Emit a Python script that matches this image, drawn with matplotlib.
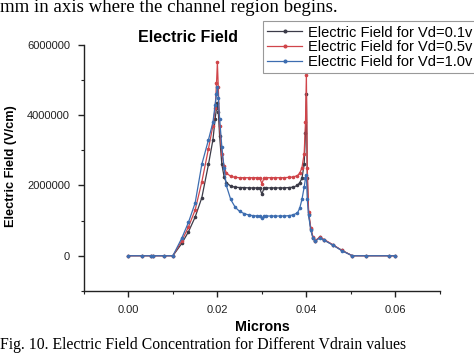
import matplotlib
matplotlib.use('Agg')
import matplotlib.pyplot as plt
from matplotlib.ticker import MultipleLocator

plt.rcParams['font.family'] = ['Liberation Sans', 'DejaVu Sans']

# mesh positions (microns)
x = [0.0, 0.003, 0.005, 0.0055, 0.008, 0.01, 0.012, 0.0135, 0.015, 0.0165,
     0.018, 0.019, 0.0195, 0.0198, 0.02, 0.0202, 0.0205, 0.021, 0.0215, 0.022,
     0.023, 0.024, 0.025, 0.026, 0.027, 0.028, 0.029, 0.0295, 0.03, 0.0305,
     0.031, 0.032, 0.033, 0.034, 0.035, 0.036, 0.037, 0.038, 0.0385, 0.039,
     0.0395, 0.0398, 0.04, 0.0402, 0.0405, 0.041, 0.0415, 0.042, 0.043, 0.044,
     0.046, 0.048, 0.0503, 0.0535, 0.0585, 0.06]

# electric field, units of 1e6 V/cm
e_vd01 = [0, 0, 0, 0, 0, 0, 0.35, 0.68, 1.1, 1.65,
          2.6, 3.3, 3.9, 4.2, 4.35, 4.1, 3.4, 2.6, 2.25, 2.08,
          1.98, 1.95, 1.94, 1.94, 1.93, 1.93, 1.93, 1.93, 1.75, 1.93,
          1.93, 1.93, 1.93, 1.93, 1.93, 1.94, 1.95, 2.0, 2.08, 2.2,
          2.6, 3.5, 4.6, 2.2, 1.2, 0.75, 0.5, 0.42, 0.52, 0.45,
          0.3, 0.15, 0, 0, 0, 0]
e_vd05 = [0, 0, 0, 0, 0, 0, 0.42, 0.82, 1.3, 2.1,
          3.05, 3.7, 4.2, 4.9, 5.5, 4.8, 3.7, 2.9, 2.55, 2.35,
          2.26, 2.23, 2.22, 2.22, 2.22, 2.22, 2.22, 2.22, 2.05, 2.22,
          2.22, 2.22, 2.22, 2.22, 2.22, 2.23, 2.24, 2.28, 2.35, 2.5,
          2.9, 3.8, 5.15, 2.5, 1.25, 0.78, 0.52, 0.43, 0.53, 0.46,
          0.31, 0.15, 0, 0, 0, 0]
e_vd10 = [0, 0, 0, 0, 0, 0, 0.5, 0.95, 1.5, 2.6,
          3.3, 3.8, 4.3, 4.6, 4.8, 4.5, 3.9, 3.1, 2.5, 2.0,
          1.6, 1.38, 1.26, 1.2, 1.16, 1.14, 1.13, 1.13, 1.07, 1.13,
          1.13, 1.13, 1.13, 1.13, 1.13, 1.14, 1.16, 1.22, 1.35, 1.6,
          1.95, 2.2, 2.3, 1.6, 1.15, 0.72, 0.5, 0.41, 0.51, 0.44,
          0.3, 0.14, 0, 0, 0, 0]

labels = ['Electric Field for Vd=0.1v', 'Electric Field for Vd=0.5v', 'Electric Field for Vd=1.0v']
colors = ['#3b3b48', '#d0454a', '#3d6db0']

fig = plt.figure(figsize=(4.74, 3.53), dpi=100)
ax = fig.add_axes([0.177, 0.176, 0.751, 0.697])

for ys, lab, c in zip([e_vd01, e_vd05, e_vd10], labels, colors):
    ax.plot(x, [v * 1e6 for v in ys], color=c, lw=0.9, marker='o', ms=1.6,
            mfc=c, mec=c, label=lab)

ax.set_xlim(-0.01, 0.07)
ax.set_ylim(-1000000, 6000000)
ax.xaxis.set_major_locator(MultipleLocator(0.02))
ax.xaxis.set_minor_locator(MultipleLocator(0.01))
ax.yaxis.set_major_locator(MultipleLocator(2000000))
ax.yaxis.set_minor_locator(MultipleLocator(1000000))
ax.xaxis.set_major_formatter(plt.FuncFormatter(lambda v, p: '%.2f' % v))
ax.yaxis.set_major_formatter(plt.FuncFormatter(lambda v, p: '%d' % round(v)))
ax.spines['top'].set_visible(False)
ax.spines['right'].set_visible(False)
for s in ['left', 'bottom']:
    ax.spines[s].set_linewidth(1.0)
    ax.spines[s].set_color('#222222')
ax.tick_params(which='major', direction='out', length=4, width=1, labelsize=8, colors='#222222', pad=6)
ax.tick_params(which='minor', direction='out', length=2.5, width=0.8, colors='#222222')

ax.set_xlabel('Microns', fontsize=10.3, fontweight='bold', labelpad=4)
fig.text(0.023, 0.53, 'Electric Field (V/cm)', fontsize=9.2, fontweight='bold',
         rotation=90, ha='center', va='center')
fig.text(0.397, 0.895, 'Electric Field', fontsize=11.5, fontweight='bold', ha='center', va='center')

leg = fig.legend(loc='upper left', bbox_to_anchor=(0.555, 0.94), fontsize=10.5,
                 frameon=True, fancybox=False, edgecolor='#999999', framealpha=1,
                 handlelength=2.4, handletextpad=0.4, labelspacing=0.05,
                 borderpad=0.3, borderaxespad=0, numpoints=1, markerscale=1.2)
leg.get_frame().set_linewidth(0.8)

fig.text(0.0, 1 - 11.5 / 353, 'mm in axis where the channel region begins.',
         family='Liberation Serif', fontsize=13.6, ha='left', va='baseline')
fig.text(0.0, 1 - 349 / 353, 'Fig. 10. Electric Field Concentration for Different Vdrain values',
         family='Liberation Serif', fontsize=11.3, ha='left', va='baseline')

fig.savefig('out.png', dpi=100)
